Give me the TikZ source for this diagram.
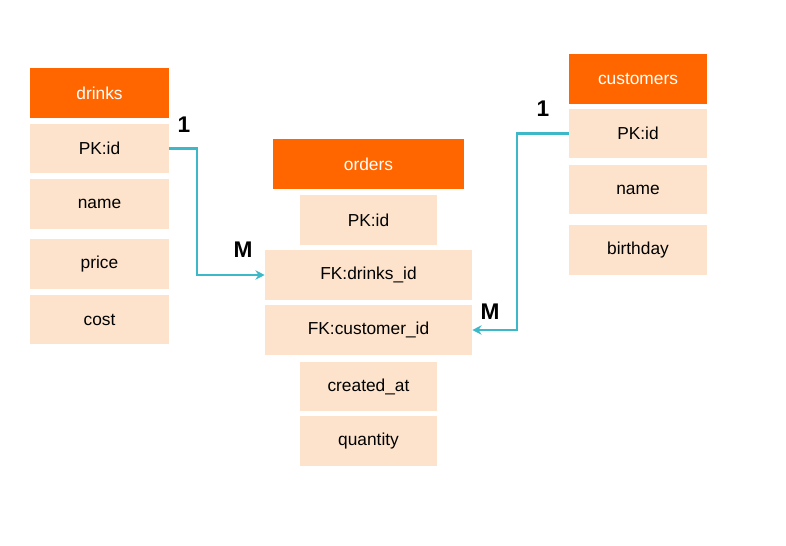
\documentclass[tikz,border=0pt]{standalone}
\usepackage{fontspec}
\setmainfont{Liberation Sans}
\usetikzlibrary{arrows.meta}
\definecolor{headorange}{HTML}{FF6600}
\definecolor{fieldbeige}{HTML}{FDE3CB}
\definecolor{linkteal}{HTML}{3DB8C8}
\tikzset{
  header/.style={fill=headorange,text=white,inner sep=0pt,font=\fontsize{13}{15}\selectfont},
  field/.style={fill=fieldbeige,text=black,inner sep=0pt,font=\fontsize{13}{15}\selectfont},
  size/.style 2 args={minimum width=#1*0.75pt,minimum height=#2*0.75pt}, % in pixels
  link/.style={linkteal,line width=1.8pt,-{Stealth[length=7pt,width=7pt]}},
  mult/.style={font=\bfseries\fontsize{17}{19}\selectfont}
}
\begin{document}
\begin{tikzpicture}[x=0.75pt,y=-0.75pt]
  \useasboundingbox (0,0) rectangle (786,546);
  % drinks
  \node[header,size={139}{50}] (drinks) at (99.5,93) {drinks};
  \node[field,size={139}{49}] (drinksid) at (99.5,148.5) {PK:id};
  \node[field,size={139}{50}] (drinksname) at (99.5,204) {name};
  \node[field,size={139}{50}] (drinksprice) at (99.5,264) {price};
  \node[field,size={139}{49}] (drinkscost) at (99.5,319.5) {cost};
  % orders
  \node[header,size={191}{50}] (orders) at (368.5,164) {orders};
  \node[field,size={137}{50}] (ordersid) at (368.5,220) {PK:id};
  \node[field,size={207}{50}] (ordersdrinks) at (368.5,275) {FK:drinks\_id};
  \node[field,size={207}{50}] (orderscust) at (368.5,330) {FK:customer\_id};
  \node[field,size={137}{49}] (orderscreated) at (368.5,386.5) {created\_at};
  \node[field,size={137}{50}] (ordersqty) at (368.5,441) {quantity};
  % customers
  \node[header,size={138}{50}] (customers) at (638,79) {customers};
  \node[field,size={138}{49}] (custid) at (638,133.5) {PK:id};
  \node[field,size={138}{49}] (custname) at (638,189.5) {name};
  \node[field,size={138}{50}] (custbirth) at (638,250) {birthday};
  % links
  \draw[link] (drinksid.east) -- (197,148.5) |- (ordersdrinks.west);
  \draw[link] (custid.west) -- (517,133.5) |- (orderscust.east);
  \node[mult] (one1) at (184,125) {1};
  \node[mult] (many1) at (243,250) {M};
  \node[mult] (one2) at (543,109) {1};
  \node[mult] (many2) at (490,312) {M};
\end{tikzpicture}
\end{document}
